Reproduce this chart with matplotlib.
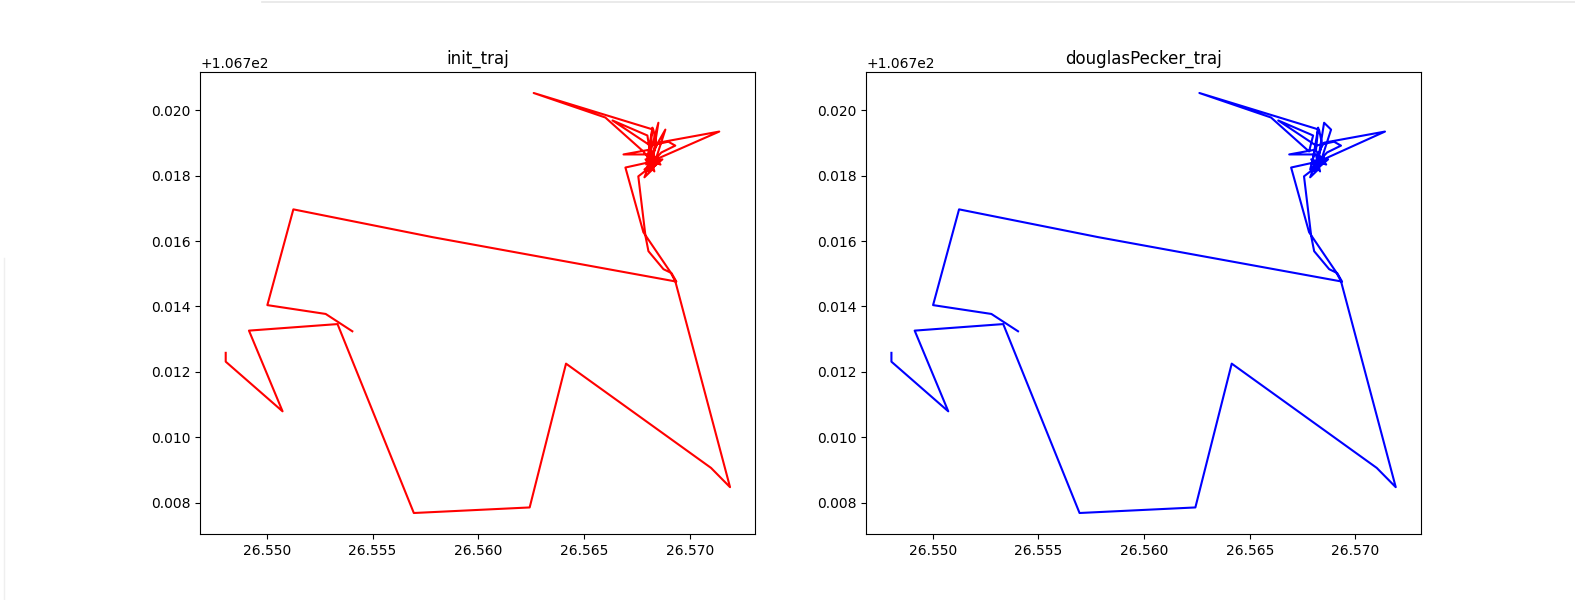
import matplotlib
matplotlib.use("Agg")
import matplotlib.pyplot as plt
from matplotlib.lines import Line2D

# initial trajectory (x = lon-like value, y = lat-like value)
init_x = [26.54805, 26.54805, 26.55074, 26.54915, 26.55334, 26.55695, 26.56243,
          26.56415, 26.57101, 26.57191, 26.56932, 26.56909, 26.56781, 26.56696,
          26.56871, 26.56805, 26.56838, 26.56852, 26.57140, 26.56862, 26.56795,
          26.56824, 26.56814, 26.56687, 26.56828, 26.56852, 26.56805, 26.56885,
          26.56824, 26.56786, 26.56843, 26.56828, 26.56262, 26.56601, 26.56781,
          26.56819, 26.56800, 26.56635, 26.56814, 26.56899, 26.56932, 26.56866,
          26.56800,
          26.56852, 26.56786, 26.56838, 26.56810, 26.56862, 26.56791, 26.56833,
          26.56814,
          26.56847, 26.56757, 26.56791, 26.56805, 26.56876, 26.56914,
          26.56937, 26.55783, 26.55125, 26.55002, 26.55278, 26.55404]
init_y = [106.71258, 106.71231, 106.71079, 106.71326, 106.71346, 106.70768, 106.70785,
          106.71225, 106.70906, 106.70847, 106.71477, 106.71505, 106.71627, 106.71825,
          106.71850, 106.71813, 106.71886, 106.71901, 106.71935, 106.71856, 106.71834,
          106.71947, 106.71880, 106.71865, 106.71865, 106.71962, 106.71850, 106.71941,
          106.71819, 106.71795, 106.71895, 106.71941, 106.72053, 106.71978, 106.71874,
          106.71843, 106.71923, 106.71969, 106.71892, 106.71904, 106.71892, 106.71871,
          106.71825,
          106.71856, 106.71819, 106.71831, 106.71880, 106.71834, 106.71850, 106.71813,
          106.71862,
          106.71843, 106.71798, 106.71615, 106.71569, 106.71514, 106.71502,
          106.71476, 106.71612, 106.71697, 106.71404, 106.71377, 106.71324]

# indices of the points dropped by the Douglas-Peucker simplification
dp_drop = [19, 26, 35, 45]
dp_x = [v for i, v in enumerate(init_x) if i not in dp_drop]
dp_y = [v for i, v in enumerate(init_y) if i not in dp_drop]

titles = ["init_traj", "douglasPecker_traj"]

fig, axes = plt.subplots(1, 2, figsize=(15.75, 6), dpi=100)
fig.subplots_adjust(left=0.1273, right=0.9022, bottom=0.11, top=0.88, wspace=0.2)
axes[0].plot(init_x, init_y, color="r")
axes[0].set_title(titles[0])
axes[1].plot(dp_x, dp_y, color="b")
axes[1].set_title(titles[1])

# faint screenshot borders
fig.add_artist(Line2D([262 / 1575, 1.0], [1 - 1.5 / 600, 1 - 1.5 / 600],
                      transform=fig.transFigure, color="#e6e6e6", lw=1.2))
fig.add_artist(Line2D([4 / 1575, 4 / 1575], [0, 1 - 258 / 600],
                      transform=fig.transFigure, color="#efefef", lw=1.0))

fig.savefig("out.png", dpi=100)
